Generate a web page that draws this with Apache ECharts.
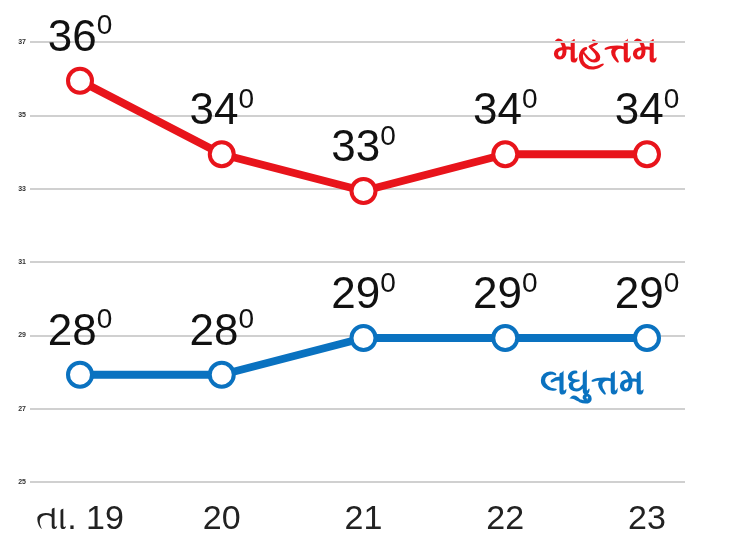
<!DOCTYPE html><html><head><meta charset="utf-8"><script src="https://cdn.jsdelivr.net/npm/echarts@6/dist/echarts.min.js"></script></head><body style="margin:0"><div id="c" style="width:730px;height:548px"></div><script>
const dates=['તા. 19','20','21','22','23'];
const maxT=[36,34,33,34,34];
const minT=[28,28,29,29,29];
const yTicks=[25,27,29,31,33,35,37];
const ch=echarts.init(document.getElementById('c'));
const lbl=()=>({show:true,position:'top',distance:2,formatter:p=>p.value+'{s|0}',fontSize:44,color:'#111',fontFamily:'Liberation Sans',rich:{s:{fontSize:28,verticalAlign:'top',padding:[0,0,24,0],color:'#111'}}});
ch.setOption({animation:false,
grid:[{left:30,right:45,top:42,bottom:66},{left:80,right:83,top:44,bottom:63}],
xAxis:[{gridIndex:0,type:'value',show:false,min:0,max:1},
{gridIndex:1,type:'category',data:dates,boundaryGap:false,axisLine:{show:false},axisTick:{show:false},axisLabel:{fontSize:34,color:'#222',margin:18,fontFamily:'Liberation Sans'}}],
yAxis:[{gridIndex:0,type:'value',min:25,max:37,interval:2,axisLine:{show:false},axisTick:{show:false},splitLine:{lineStyle:{color:'#d0d0d0',width:2}},axisLabel:{fontSize:7,color:'#333',fontWeight:'bold',margin:4,formatter:v=>yTicks.includes(v)?String(v):''}},
{gridIndex:1,type:'value',min:25,max:37,show:false}],
series:[
{type:'line',xAxisIndex:1,yAxisIndex:1,data:maxT,lineStyle:{color:'#e8141b',width:8},symbol:'circle',symbolSize:24,itemStyle:{color:'#fff',borderColor:'#e8141b',borderWidth:4},label:lbl()},
{type:'line',xAxisIndex:1,yAxisIndex:1,data:minT,lineStyle:{color:'#0a72c0',width:8},symbol:'circle',symbolSize:24,itemStyle:{color:'#fff',borderColor:'#0a72c0',borderWidth:4},label:lbl()}],
graphic:[{type:'text',left:553,top:34,style:{text:'મહત્તમ',fontSize:36,fontWeight:'bold',fill:'#e8141b'}},
{type:'text',left:540,top:366,style:{text:'લઘુત્તમ',fontSize:36,fontWeight:'bold',fill:'#0a72c0'}}]
});
</script></body></html>
